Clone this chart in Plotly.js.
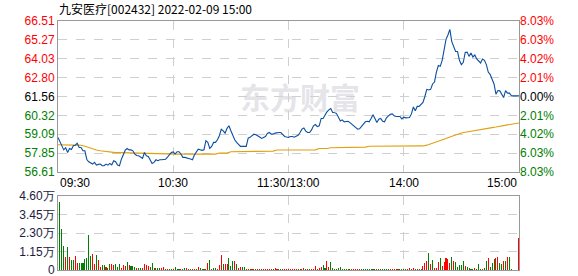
<!DOCTYPE html>
<html>
<head>
<meta charset="utf-8">
<script src="https://cdn.plot.ly/plotly-3.0.1.min.js"></script>
<style>html,body{margin:0;padding:0;background:#fff;}#chart{width:578px;height:276px;}</style>
</head>
<body>
<div id="chart"></div>
<script>
// ---- data ----
const chartTitle = "九安医疗[002432] 2022-02-09 15:00";
const preClose = 61.56;
const priceTicks = [56.61, 57.85, 59.09, 60.32, 61.56, 62.80, 64.03, 65.27, 66.51];
const pctTicks = ["8.03%", "6.03%", "4.02%", "2.01%", "0.00%", "2.01%", "4.02%", "6.03%", "8.03%"];
const volTicks = [0, 1.15, 2.30, 3.45, 4.60];
const volTickText = ["0", "1.15万", "2.30万", "3.45万", "4.60万"];
const timeLabels = ["09:30", "10:30", "11:30/13:00", "14:00", "15:00"];
const timeLabelMinutes = [0, 60, 120, 180, 240];

// price per minute (minute index 0..240)
const price = [
 58.87,58.59,58.28,58.06,58.20,57.89,58.15,58.09,58.33,58.37,
 58.50,58.22,58.22,58.00,58.00,57.43,57.28,57.19,57.13,57.24,
 57.06,57.11,57.13,57.02,57.02,57.13,57.06,57.17,57.08,57.35,
 57.28,57.06,57.02,57.45,57.78,58.04,58.15,58.06,58.06,58.00,
 57.78,57.69,57.67,57.56,57.50,57.89,57.67,57.63,57.41,57.17,
 57.24,57.41,57.35,57.41,57.41,57.41,57.45,57.58,57.72,57.89,
 57.93,57.79,57.94,57.94,57.79,57.57,57.57,57.55,57.50,57.46,
 57.41,57.72,57.89,58.11,58.07,58.03,58.07,58.66,58.55,58.16,
 58.29,58.55,58.55,58.72,58.99,59.42,59.31,59.16,59.47,59.64,
 59.31,58.99,58.72,58.55,58.44,58.29,58.29,58.29,58.29,58.83,
 58.88,58.99,59.09,59.05,58.99,58.90,58.81,58.88,58.94,59.14,
 59.20,59.09,59.09,59.16,59.20,59.20,59.20,59.09,58.94,58.90,
 58.88,58.94,58.94,58.89,58.94,59.02,59.20,59.42,59.50,59.29,
 59.20,59.20,59.37,59.64,59.72,59.59,59.64,60.12,60.12,60.38,
 60.55,60.68,60.77,60.51,60.51,60.44,60.18,59.96,60.03,59.90,
 59.92,59.94,59.85,59.75,59.59,59.50,59.42,59.44,59.59,59.75,
 59.90,59.94,59.90,60.12,60.36,60.12,59.85,60.07,60.12,59.94,
 59.90,60.16,60.29,60.40,60.42,60.29,60.25,60.27,60.25,60.09,
 60.20,60.16,60.18,60.18,60.42,60.87,60.63,60.91,60.91,61.04,
 61.17,61.56,62.03,61.99,62.03,62.38,62.51,63.16,63.59,63.54,
 63.93,64.62,65.31,65.59,65.96,65.16,64.84,64.51,64.51,63.93,
 63.65,63.80,64.45,64.47,64.19,64.41,64.15,64.28,64.02,63.89,
 63.76,64.02,63.93,63.65,63.16,63.00,62.72,62.38,61.71,61.95,
 61.93,61.69,61.49,61.95,61.78,61.78,61.62,61.60,61.60,61.60,
 61.60
];
// average price, sampled every 2 minutes
const avgPrice = [
 58.40,58.38,58.37,58.37,58.37,58.37,58.36,58.30,58.20,58.10,
 58.05,58.00,57.96,57.93,57.90,57.88,57.88,57.87,57.86,57.85,
 57.85,57.84,57.83,57.82,57.82,57.81,57.80,57.79,57.79,57.78,
 57.78,57.78,57.78,57.78,57.78,57.78,57.78,57.78,57.78,57.78,
 57.78,57.78,57.85,57.85,57.85,57.94,57.94,57.94,57.98,57.98,
 57.98,57.98,57.98,57.98,57.98,57.98,57.98,58.05,58.05,58.05,
 58.06,58.06,58.06,58.06,58.06,58.06,58.06,58.06,58.15,58.15,
 58.15,58.20,58.20,58.20,58.24,58.24,58.24,58.24,58.24,58.24,
 58.24,58.30,58.30,58.30,58.30,58.30,58.30,58.30,58.30,58.32,
 58.32,58.32,58.32,58.32,58.32,58.32,58.37,58.45,58.52,58.60,
 58.70,58.80,58.90,59.00,59.10,59.17,59.22,59.27,59.32,59.36,
 59.40,59.44,59.48,59.52,59.56,59.62,59.66,59.70,59.74,59.78,
 59.82
];
// volume per minute (万手), minute index 0..240
const volume = [
 0,4.25,2.55,1.49,0.79,1.41,0.83,0.62,0.62,0.87,
 0.46,0.46,0.46,0.46,0.68,0.75,2.18,0.87,0.99,0.37,
 0.93,0.62,0.21,0.31,0.31,0.21,0.15,0.37,0.37,0.31,
 0.37,0.21,0.37,0.15,0.31,0.25,0.52,0.31,0.25,0.25,
 0.21,0.10,0.15,0.15,0.15,0.37,0.31,0.25,0.21,0.46,
 0.10,0.15,0.10,0.15,0.15,0.21,0.06,0.06,0.06,0.06,
 0.06,0.17,0.06,0.06,0.06,0.06,0.12,0.12,0.06,0.06,
 0.06,0.06,0.06,0.17,0.10,0.06,0.06,0.06,0.46,0.62,
 0.06,0.10,0.12,0.06,0.31,0.93,0.37,0.37,0.37,0.75,
 0.25,0.56,0.56,0.37,0.10,0.19,0.19,0.19,0.06,0.06,
 0.06,0.06,0.06,0.06,0.06,0.06,0.06,0.06,0.06,0.06,
 0.06,0.06,0.06,0.10,0.06,0.06,0.06,0.06,0.06,0.06,
 0.06,0.06,0.06,0.06,0.06,0.06,0.06,0.06,0.10,0.06,
 0.06,0.06,0.06,0.06,0.25,0.06,0.10,0.21,0.31,0.10,
 0.58,0.21,0.50,0.15,0.06,0.06,0.15,0.21,0.06,0.06,
 0.06,0.06,0.06,0.06,0.06,0.06,0.06,0.06,0.06,0.06,
 0.06,0.06,0.06,0.06,0.06,0.06,0.06,0.06,0.06,0.06,
 0.06,0.06,0.06,0.06,0.06,0.06,0.06,0.06,0.06,0.06,
 0.06,0.06,0.06,0.15,0.08,0.15,0.06,0.06,0.06,0.06,
 0.27,0.46,0.58,1.08,0.37,0.62,0.12,0.12,0.52,0.75,
 0.25,0.50,0.75,0.68,0.46,0.81,0.58,0.50,0.17,0.31,
 0.31,0.56,0.25,0.19,0.12,0.08,0.08,0.12,0.08,0.37,
 0.08,0.08,0.15,0.56,0.75,0.19,0.44,0.68,0.75,0.81,
 0.44,0.37,0.56,0.56,0.81,0.81,0.04,0,0,0,
 2.01
];
// tick direction per minute: 1 = up, -1 = down
const volDir = [
 1,-1,-1,-1,1,-1,1,-1,-1,1,
 1,-1,-1,-1,-1,-1,-1,-1,1,1,
 -1,1,1,-1,-1,1,-1,-1,1,1,
 -1,-1,-1,1,1,1,-1,1,-1,-1,
 -1,1,-1,-1,1,1,1,1,-1,-1,
 1,-1,-1,-1,1,1,-1,1,-1,-1,
 1,-1,-1,-1,1,-1,-1,1,1,-1,
 1,1,-1,1,-1,-1,-1,1,1,-1,
 1,-1,-1,1,1,1,-1,1,1,-1,
 -1,-1,1,-1,1,1,-1,-1,1,1,
 -1,1,1,-1,1,1,-1,1,1,1,
 1,1,-1,1,1,-1,-1,1,1,1,
 1,1,1,1,1,-1,-1,1,1,-1,
 1,-1,1,1,1,-1,1,1,-1,-1,
 1,1,-1,-1,-1,-1,-1,-1,-1,-1,
 -1,-1,-1,1,1,1,1,1,-1,-1,
 -1,-1,-1,-1,-1,-1,1,-1,-1,-1,
 -1,-1,-1,1,1,1,-1,1,-1,-1,
 -1,-1,1,1,-1,1,1,-1,1,-1,
 1,1,1,-1,1,-1,1,1,1,-1,
 1,1,1,1,1,-1,1,-1,-1,-1,
 -1,-1,1,-1,-1,-1,-1,1,-1,-1,
 -1,1,-1,-1,1,-1,-1,-1,1,1,
 -1,-1,1,-1,1,-1,-1,1,1,1,
 1
];

// ---- build ----
const RED = "#ff0000", GREEN = "#008000", BLUE_LINE = "#0a4fa0", AVG = "#e0a010";
const priceX = price.map((_, i) => i);
const avgX = avgPrice.map((_, i) => i * 2);
const volX = volume.map((_, i) => i);

const leftText = priceTicks.map(v => {
  const c = Math.abs(v - preClose) < 1e-6 ? "#000000" : (v > preClose ? RED : GREEN);
  return `<span style="color:${c}">${v.toFixed(2)}</span>`;
});
const rightText = priceTicks.map((v, i) => {
  const c = Math.abs(v - preClose) < 1e-6 ? "#000000" : (v > preClose ? RED : GREEN);
  return `<span style="color:${c}">${pctTicks[pctTicks.length - 1 - i]}</span>`;
});

const traces = [
  {x: avgX, y: avgPrice, type: "scatter", mode: "lines", line: {color: AVG, width: 1.1}, xaxis: "x", yaxis: "y", hoverinfo: "skip"},
  {x: priceX, y: price, type: "scatter", mode: "lines", line: {color: BLUE_LINE, width: 1.1}, xaxis: "x", yaxis: "y", hoverinfo: "skip"},
  {x: priceX, y: price, type: "scatter", mode: "lines", line: {color: "rgba(0,0,0,0)", width: 0}, xaxis: "x", yaxis: "y2", hoverinfo: "skip"},
  {x: volX, y: volume, type: "bar", width: 0.55, marker: {color: volDir.map(d => d > 0 ? RED : GREEN), line: {width: 0}}, xaxis: "x2", yaxis: "y3", hoverinfo: "skip"}
];

const gridCommon = {gridcolor: "#cfcfcf", griddash: "dash", gridwidth: 1, zeroline: false, showline: true, mirror: true, linecolor: "#999999", linewidth: 1, ticks: ""};
const tickFont = {family: "Liberation Sans, Arial, sans-serif", size: 12, color: "#000"};

const H = 249;
const layout = {
  width: 578, height: 276,
  margin: {l: 58, r: 59, t: 21, b: 6, pad: 0},
  paper_bgcolor: "#fff", plot_bgcolor: "#fff",
  showlegend: false,
  bargap: 0,
  title: {text: chartTitle, x: 59/578, xanchor: "left", xref: "container", y: 1 - 10/276, yanchor: "middle", yref: "container",
          font: {family: "Noto Sans CJK SC, sans-serif", size: 12, color: "#000"}},
  xaxis: Object.assign({}, gridCommon, {domain: [0, 1], range: [0, 240], anchor: "y", tickvals: [60, 120, 180], showticklabels: false}),
  yaxis: Object.assign({}, gridCommon, {domain: [(270 - 172) / H, 1], range: [56.61, 66.51], tickvals: priceTicks, ticktext: leftText, tickfont: tickFont, ticklabeloverflow: "allow"}),
  yaxis2: {overlaying: "y", side: "right", anchor: "x", range: [56.61, 66.51], tickvals: priceTicks, ticktext: rightText, tickfont: tickFont, showgrid: false, zeroline: false, showline: false, ticks: "", ticklabeloverflow: "allow"},
  xaxis2: Object.assign({}, gridCommon, {domain: [0, 1], range: [0, 240], anchor: "y3", tickvals: [60, 120, 180], showticklabels: false}),
  yaxis3: Object.assign({}, gridCommon, {domain: [0, (270 - 196) / H], range: [0, 4.60], tickvals: volTicks, ticktext: volTickText, ticklabeloverflow: "allow",
          tickfont: {family: "Liberation Sans, Arial, sans-serif", size: 12, color: "#1c1c3c"}}),
  annotations: timeLabels.map((t, i) => ({
    text: t, x: timeLabelMinutes[i], xref: "x", y: (270 - 183) / H, yref: "paper",
    xanchor: i === 0 ? "left" : (i === timeLabels.length - 1 ? "right" : "center"), yanchor: "middle",
    showarrow: false, font: {family: "Liberation Sans, Arial, sans-serif", size: 12, color: "#000"}
  })).concat([{
    text: "<b>东方财富</b>", x: 126, xref: "x", y: 61.6, yref: "y", xanchor: "center", yanchor: "middle", showarrow: false,
    font: {family: "Noto Sans CJK SC, sans-serif", size: 30, color: "rgba(210,210,218,0.6)"}
  }])
};

Plotly.newPlot("chart", traces, layout, {staticPlot: true, displayModeBar: false});
</script>
</body>
</html>
